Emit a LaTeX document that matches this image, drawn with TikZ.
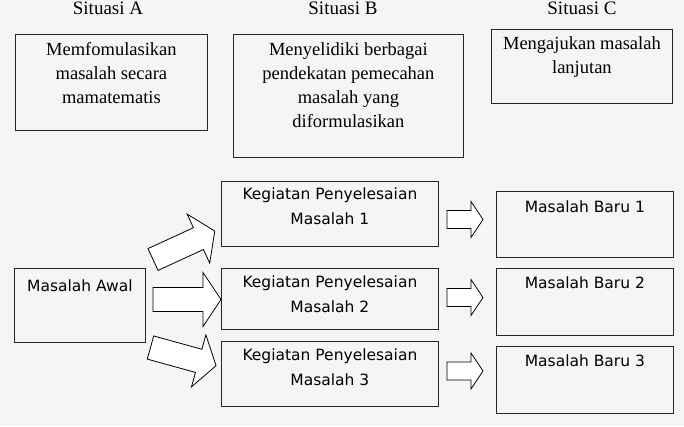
\documentclass[tikz,border=0pt]{standalone}
\usepackage{fontspec}
\setmainfont{Liberation Serif}
\newfontfamily\sansf{DejaVu Sans}
\begin{document}
\begin{tikzpicture}[x=1pt,y=-1pt,
  box/.style={draw=black!85,line width=0.8pt,anchor=north west,inner sep=0pt},
  stxt/.style={anchor=north,align=center,font=\fontsize{18.5}{24}\selectfont,inner sep=0pt},
  ftxt/.style={anchor=north,align=center,font=\sansf\fontsize{15.5}{25}\selectfont,inner sep=0pt},
  ttl/.style={font=\fontsize{19}{20}\selectfont},
  barrow/.style={draw=black,line width=0.8pt,fill=white,line join=miter}]
\fill[black!4] (0,0) rectangle (684,426);
\useasboundingbox (0,0) rectangle (684,426);
% titles
\node[ttl] (ta) at (108,8) {Situasi A};
\node[ttl] (tb) at (343,8) {Situasi B};
\node[ttl] (tc) at (582,8) {Situasi C};
% top boxes
\node[box,minimum width=192,minimum height=96] (A) at (15,34) {};
\node[stxt] (Atx) at ([yshift=-8]A.north) {Memfomulasikan\\masalah secara\\mamatematis};
\node[box,minimum width=230,minimum height=123] (B) at (233,34) {};
\node[stxt] (Btx) at ([yshift=-8]B.north) {Menyelidiki berbagai\\pendekatan pemecahan\\masalah yang\\diformulasikan};
\node[box,minimum width=181,minimum height=74] (C) at (491,29) {};
\node[stxt] (Ctx) at ([yshift=-7]C.north) {Mengajukan masalah\\lanjutan};
% lower boxes
\node[box,minimum width=131,minimum height=74] (M) at (14,268) {};
\node[ftxt] (Mtx) at ([yshift=-12]M.north) {Masalah Awal};
\node[box,minimum width=217,minimum height=65] (K1) at (221,181) {};
\node[ftxt] (K1tx) at ([yshift=-7]K1.north) {Kegiatan Penyelesaian\\Masalah 1};
\node[box,minimum width=217,minimum height=61] (K2) at (221,268) {};
\node[ftxt] (K2tx) at ([yshift=-8]K2.north) {Kegiatan Penyelesaian\\Masalah 2};
\node[box,minimum width=217,minimum height=65] (K3) at (221,341) {};
\node[ftxt] (K3tx) at ([yshift=-8]K3.north) {Kegiatan Penyelesaian\\Masalah 3};
\node[box,minimum width=177,minimum height=66] (R1) at (496,191) {};
\node[ftxt] (R1tx) at ([yshift=-10]R1.north) {Masalah Baru 1};
\node[box,minimum width=177,minimum height=67] (R2) at (496,268) {};
\node[ftxt] (R2tx) at ([yshift=-9]R2.north) {Masalah Baru 2};
\node[box,minimum width=177,minimum height=67] (R3) at (496,346) {};
\node[ftxt] (R3tx) at ([yshift=-9]R3.north) {Masalah Baru 3};
% big block arrows
\foreach \tx/\ty/\ang in {153/259.5/24.7, 153/299.5/0, 150.5/347.5/-15.5}{
  \draw[barrow,shift={(\tx,\ty)},rotate=\ang]
    (0,-12) -- (50,-12) -- (50,-27) -- (68,0) -- (50,27) -- (50,12) -- (0,12) -- cycle;
}
% small block arrows
\foreach \cy in {219.5,297.5,371}{
  \draw[barrow,shift={(447,\cy)}]
    (0,-9) -- (24,-9) -- (24,-18) -- (36,0) -- (24,18) -- (24,9) -- (0,9) -- cycle;
}
\end{tikzpicture}
\end{document}
